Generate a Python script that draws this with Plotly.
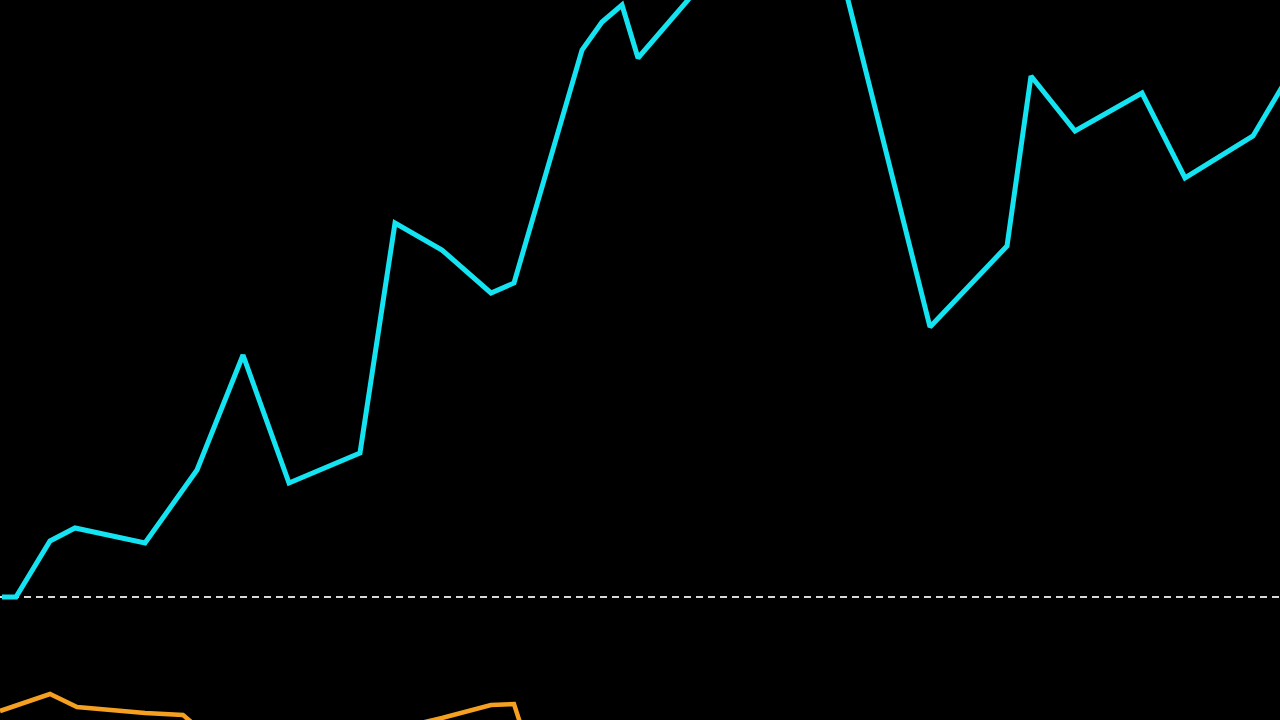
import plotly.graph_objects as go

# Time (days) and cumulative return (%) for the two series
cyan_x = [0.2, 1.6, 5.0, 7.5, 14.5, 19.7, 24.3, 28.9, 36.0, 39.5, 44.2, 49.1, 51.4,
          58.2, 60.2, 62.2, 63.8, 68.8, 72.0, 76.0, 80.0, 84.8, 93.0, 100.7, 103.1,
          107.5, 114.2, 118.5, 125.3, 128.5]
cyan_y = [0.0, 0.0, 5.6, 6.9, 5.4, 12.7, 24.2, 11.4, 14.4, 37.4, 34.7, 30.4, 31.4,
          54.7, 57.5, 59.2, 53.9, 59.7, 64.0, 68.0, 76.0, 59.7, 27.0, 35.1, 52.1,
          46.6, 50.4, 41.9, 46.1, 51.5]

orange_x = [0.0, 5.0, 7.7, 14.5, 18.3, 19.7, 24.3, 28.9, 36.0, 39.5, 44.2, 49.1, 51.4,
            58.2, 68.8, 84.8, 93.0, 103.1, 118.5, 128.5]
orange_y = [-11.4, -9.7, -11.0, -11.6, -11.8, -13.0, -14.0, -13.8, -13.5, -13.2, -12.1,
            -10.8, -10.7, -31.8, -30.0, -28.0, -40.0, -35.0, -36.0, -34.0]

baseline = 0.0

fig = go.Figure()
fig.add_trace(go.Scatter(x=orange_x, y=orange_y, mode="lines",
                         line=dict(color="#F5A020", width=4.5), hoverinfo="skip"))
fig.add_trace(go.Scatter(x=cyan_x, y=cyan_y, mode="lines",
                         line=dict(color="#14E4F2", width=5), hoverinfo="skip"))
fig.add_shape(type="line", xref="paper", x0=0, x1=1, yref="y", y0=baseline, y1=baseline,
              line=dict(color="#d8d8d8", width=2, dash="7px,5px"), layer="below")

fig.update_layout(
    width=1280, height=720,
    margin=dict(l=0, r=0, t=0, b=0),
    paper_bgcolor="black", plot_bgcolor="black",
    showlegend=False,
    xaxis=dict(range=[0, 128], visible=False, showgrid=False, zeroline=False),
    yaxis=dict(range=[-12.3, 59.7], visible=False, showgrid=False, zeroline=False),
)
fig.write_html(
    "out.html",
    config={"displayModeBar": False},
    post_script="document.body.style.margin='0';document.body.style.padding='0';"
                "document.body.style.background='black';document.body.style.overflow='hidden';",
)
